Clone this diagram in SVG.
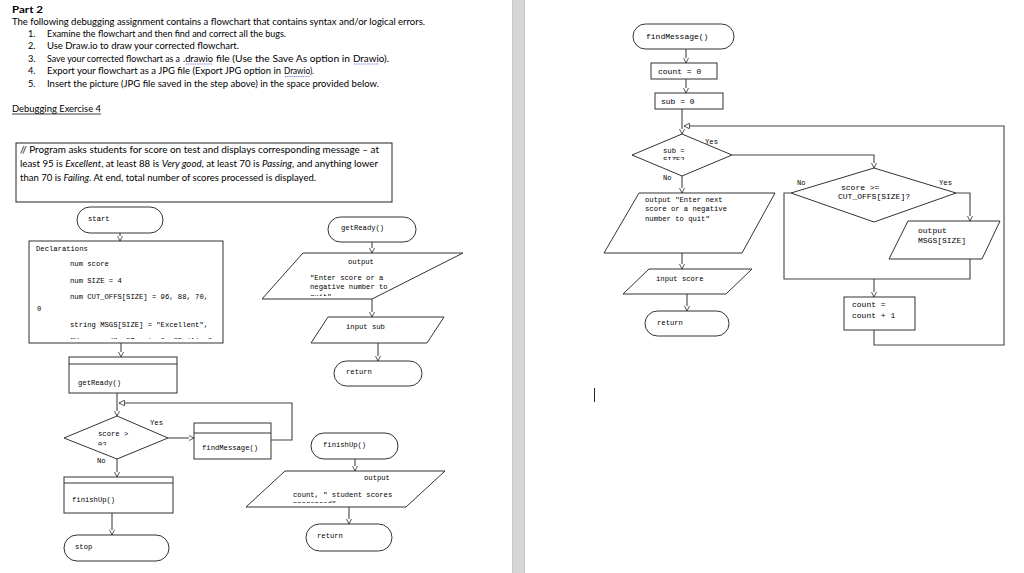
<svg xmlns="http://www.w3.org/2000/svg" width="1024" height="573" viewBox="0 0 1024 573">
<style>
.doc{font-family:Lato,"Liberation Sans",Arial,sans-serif;font-size:9.2px;fill:#000}
.m{font-family:"Liberation Mono","Courier New",monospace;font-size:7.2px;fill:#000}
.m8{font-family:"Liberation Mono","Courier New",monospace;font-size:8px;fill:#000}
.n{fill:#fff;stroke:#333;stroke-width:1}
.c{fill:none;stroke:#444;stroke-width:1.1}
.ca{fill:none;stroke:#444;stroke-width:1.1;marker-end:url(#arr)}
.sq{fill:none;stroke:#4b5bd0;stroke-width:0.8;stroke-dasharray:1 0.8}
</style>
<defs>
<marker id="arr" viewBox="0 0 8 8" refX="8" refY="4" markerWidth="5" markerHeight="5" orient="auto" markerUnits="strokeWidth">
<path d="M0,0 L8,4 L0,8 z" fill="#fff" stroke="#333" stroke-width="1.2"/>
</marker>
<clipPath id="cDecl"><rect x="29" y="241" width="194" height="98"/></clipPath>
<clipPath id="cOut1"><rect x="260" y="253" width="210" height="43"/></clipPath>
<clipPath id="cOut2"><rect x="240" y="471" width="210" height="32"/></clipPath>
<clipPath id="cD1"><rect x="60" y="416" width="120" height="29.5"/></clipPath>
<clipPath id="cD2"><rect x="630" y="134" width="110" height="26"/></clipPath>
</defs>
<rect x="0" y="0" width="1024" height="573" fill="#fff"/>
<rect x="512" y="0" width="13" height="573" fill="#d6d6d6"/>
<line x1="512.5" y1="0" x2="512.5" y2="573" stroke="#c8c8c8"/>
<line x1="524.5" y1="0" x2="524.5" y2="573" stroke="#c8c8c8"/>

<g id="doc-text">
<text class="doc" x="12" y="13" font-weight="bold" textLength="31" lengthAdjust="spacingAndGlyphs">Part 2</text>
<text class="doc" x="12" y="25" textLength="413" lengthAdjust="spacingAndGlyphs">The following debugging assignment contains a flowchart that contains syntax and/or logical errors.</text>
<text class="doc" x="28" y="37">1.</text>
<text class="doc" x="47" y="37" textLength="239" lengthAdjust="spacingAndGlyphs">Examine the flowchart and then find and correct all the bugs.</text>
<text class="doc" x="28" y="49">2.</text>
<text class="doc" x="47" y="49" textLength="192" lengthAdjust="spacingAndGlyphs">Use Draw.io to draw your corrected flowchart.</text>
<text class="doc" x="28" y="62">3.</text>
<text class="doc" x="47" y="62" textLength="133" lengthAdjust="spacingAndGlyphs">Save your corrected flowchart as a</text>
<text class="doc" x="183" y="62" textLength="30" lengthAdjust="spacingAndGlyphs">.drawio</text>
<text class="doc" x="216" y="62" textLength="134" lengthAdjust="spacingAndGlyphs">file (Use the Save As option in</text>
<text class="doc" x="353" y="62" textLength="36" lengthAdjust="spacingAndGlyphs">Drawio).</text>
<text class="doc" x="28" y="74">4.</text>
<text class="doc" x="47" y="74" textLength="234" lengthAdjust="spacingAndGlyphs">Export your flowchart as a JPG file (Export JPG option in</text>
<text class="doc" x="284" y="74" textLength="30" lengthAdjust="spacingAndGlyphs">Drawio).</text>
<text class="doc" x="28" y="87">5.</text>
<text class="doc" x="47" y="87" textLength="332" lengthAdjust="spacingAndGlyphs">Insert the picture (JPG file saved in the step above) in the space provided below.</text>
<text class="doc" x="12" y="112" textLength="89" lengthAdjust="spacingAndGlyphs">Debugging Exercise 4</text>
<line x1="12" y1="114" x2="101" y2="114" stroke="#111" stroke-width="0.8"/>
<path class="sq" d="M186,64 H213 M354,64 H379 M285,76.5 H310"/>
</g>

<g id="comment">
<rect x="16" y="143" width="376" height="59" fill="#fff" stroke="#222" stroke-width="1"/>
<text class="doc" x="20" y="153" textLength="359" lengthAdjust="spacingAndGlyphs">// Program asks students for score on test and displays corresponding message – at</text>
<text class="doc" x="20" y="167" textLength="358" lengthAdjust="spacingAndGlyphs">least 95 is <tspan font-style="italic">Excellent</tspan>, at least 88 is <tspan font-style="italic">Very good</tspan>, at least 70 is <tspan font-style="italic">Passing</tspan>, and anything lower</text>
<text class="doc" x="20" y="181" textLength="296" lengthAdjust="spacingAndGlyphs">than 70 is <tspan font-style="italic">Failing</tspan>. At end, total number of scores processed is displayed.</text>
</g>

<g id="connectors">
<path class="ca" d="M120,233 V241"/>
<path class="ca" d="M121,343 V357"/>
<path class="ca" d="M117,393 V416"/>
<path class="ca" d="M271,440 H292 V403 H119"/>
<path class="ca" d="M168,438 H194"/>
<path class="ca" d="M117,459 V477"/>
<path class="ca" d="M112,513 V535"/>
<path class="ca" d="M372,242 V253"/>
<path class="ca" d="M372,299 V317"/>
<path class="ca" d="M378,343 V361"/>
<path class="ca" d="M355,459 V471"/>
<path class="ca" d="M349,507 V524"/>
<path class="ca" d="M686,49 V63"/>
<path class="ca" d="M686,79 V93"/>
<path class="ca" d="M682,109 V134"/>
<path class="ca" d="M874,330 V345 H1004 V126 H684"/>
<path class="ca" d="M732,155 H874 V168"/>
<path class="ca" d="M682,176 V193"/>
<path class="ca" d="M682,253 V269"/>
<path class="ca" d="M687,294 V311"/>
<path class="c" d="M791,193 H784 V279 H970 V259"/>
<path class="ca" d="M956,193 H970 V221"/>
<path class="ca" d="M874,279 V297"/>
</g>

<g id="start">
<rect class="n" x="77" y="207" width="86" height="26" rx="13"/>
<text class="m" x="88" y="221">start</text>
</g>
<g id="declarations">
<rect class="n" x="29" y="241" width="194" height="102"/>
<text class="m" x="36" y="251">Declarations</text>
<text class="m" x="70" y="266">num score</text>
<text class="m" x="70" y="283">num SIZE = 4</text>
<text class="m" x="70" y="299">num CUT_OFFS[SIZE] = 96, 88, 70,</text>
<text class="m" x="37" y="311">0</text>
<text class="m" x="70" y="327">string MSGS[SIZE] = "Excellent",</text>
<text class="m" x="70" y="342.5" clip-path="url(#cDecl)">"Very good", "Passing", "Failing"</text>
</g>
<g id="call-getReady">
<rect class="n" x="69" y="357" width="108" height="36"/>
<line x1="69" y1="364" x2="177" y2="364" stroke="#333"/>
<text class="m" x="78" y="385">getReady()</text>
</g>
<g id="decision-score">
<polygon class="n" points="117,416 168,438 117,459 64,438"/>
<text class="m" x="98" y="436">score &gt;</text>
<text class="m" x="98" y="447" clip-path="url(#cD1)">0?</text>
<text class="m" x="150" y="425">Yes</text>
<text class="m" x="97" y="463">No</text>
</g>
<g id="call-findMessage">
<rect class="n" x="194" y="423" width="77" height="36"/>
<line x1="194" y1="433" x2="271" y2="433" stroke="#333"/>
<text class="m" x="202" y="450">findMessage()</text>
</g>
<g id="call-finishUp">
<rect class="n" x="64" y="477" width="109" height="36"/>
<line x1="64" y1="483" x2="173" y2="483" stroke="#333"/>
<text class="m" x="72" y="502">finishUp()</text>
</g>
<g id="stop">
<rect class="n" x="64" y="535" width="105" height="26" rx="13"/>
<text class="m" x="75" y="549">stop</text>
</g>

<g id="getReady-start">
<rect class="n" x="328" y="217" width="88" height="25" rx="12.5"/>
<text class="m" x="341" y="230">getReady()</text>
</g>
<g id="getReady-output">
<polygon class="n" points="303,253 463,253 372,299 262,299"/>
<text class="m" x="348" y="264">output</text>
<text class="m" x="310" y="280">"Enter score or a</text>
<text class="m" x="310" y="289">negative number to</text>
<text class="m" x="310" y="299" clip-path="url(#cOut1)">quit"</text>
</g>
<g id="getReady-input">
<polygon class="n" points="328,317 444,317 427,343 311,343"/>
<text class="m" x="346" y="329">input sub</text>
</g>
<g id="getReady-return">
<rect class="n" x="334" y="361" width="88" height="25" rx="12.5"/>
<text class="m" x="346" y="374">return</text>
</g>

<g id="finishUp-start">
<rect class="n" x="311" y="433" width="87" height="26" rx="13"/>
<text class="m" x="323" y="447">finishUp()</text>
</g>
<g id="finishUp-output">
<polygon class="n" points="285,471 445,471 406,507 246,507"/>
<text class="m" x="364" y="480">output</text>
<text class="m" x="293" y="497">count, " student scores</text>
<text class="m" x="293" y="506" clip-path="url(#cOut2)">processed"</text>
</g>
<g id="finishUp-return">
<rect class="n" x="306" y="524" width="86" height="27" rx="13.5"/>
<text class="m" x="317" y="538">return</text>
</g>

<g id="cursor">
<line x1="594.5" y1="388" x2="594.5" y2="402" stroke="#222" stroke-width="1"/>
</g>

<g id="findMessage-start">
<rect class="n" x="633" y="24" width="101" height="25" rx="12.5"/>
<text class="m8" x="646" y="39">findMessage()</text>
</g>
<g id="count-init">
<rect class="n" x="651" y="63" width="66" height="16"/>
<text class="m8" x="658" y="74">count = 0</text>
</g>
<g id="sub-init">
<rect class="n" x="655" y="93" width="68" height="16"/>
<text class="m8" x="661" y="104">sub = 0</text>
</g>
<g id="decision-sub">
<polygon class="n" points="682,134 732,155 682,176 632,155"/>
<text class="m" x="663" y="153">sub =</text>
<text class="m" x="663" y="162" clip-path="url(#cD2)">SIZE?</text>
<text class="m" x="705" y="144">Yes</text>
<text class="m" x="663" y="180">No</text>
</g>
<g id="output-prompt">
<polygon class="n" points="639,193 775,193 742,253 604,253"/>
<text class="m" x="645" y="202">output "Enter next</text>
<text class="m" x="645" y="211">score or a negative</text>
<text class="m" x="645" y="221">number to quit"</text>
</g>
<g id="input-score">
<polygon class="n" points="649,269 752,269 726,294 623,294"/>
<text class="m" x="656" y="281">input score</text>
</g>
<g id="findMessage-return">
<rect class="n" x="645" y="311" width="84" height="25" rx="12.5"/>
<text class="m" x="657" y="325">return</text>
</g>
<g id="decision-cutoff">
<polygon class="n" points="874,168 956,193 874,222 791,193"/>
<text class="m8" x="841" y="190">score &gt;=</text>
<text class="m8" x="838" y="199">CUT_OFFS[SIZE]?</text>
<text class="m" x="797" y="185">No</text>
<text class="m" x="939" y="185">Yes</text>
</g>
<g id="output-msg">
<polygon class="n" points="908,221 1000,221 982,259 889,259"/>
<text class="m8" x="918" y="233">output</text>
<text class="m8" x="918" y="243">MSGS[SIZE]</text>
</g>
<g id="count-inc">
<rect class="n" x="844" y="297" width="71" height="33"/>
<text class="m8" x="852" y="307">count =</text>
<text class="m8" x="852" y="318">count + 1</text>
</g>
</svg>
